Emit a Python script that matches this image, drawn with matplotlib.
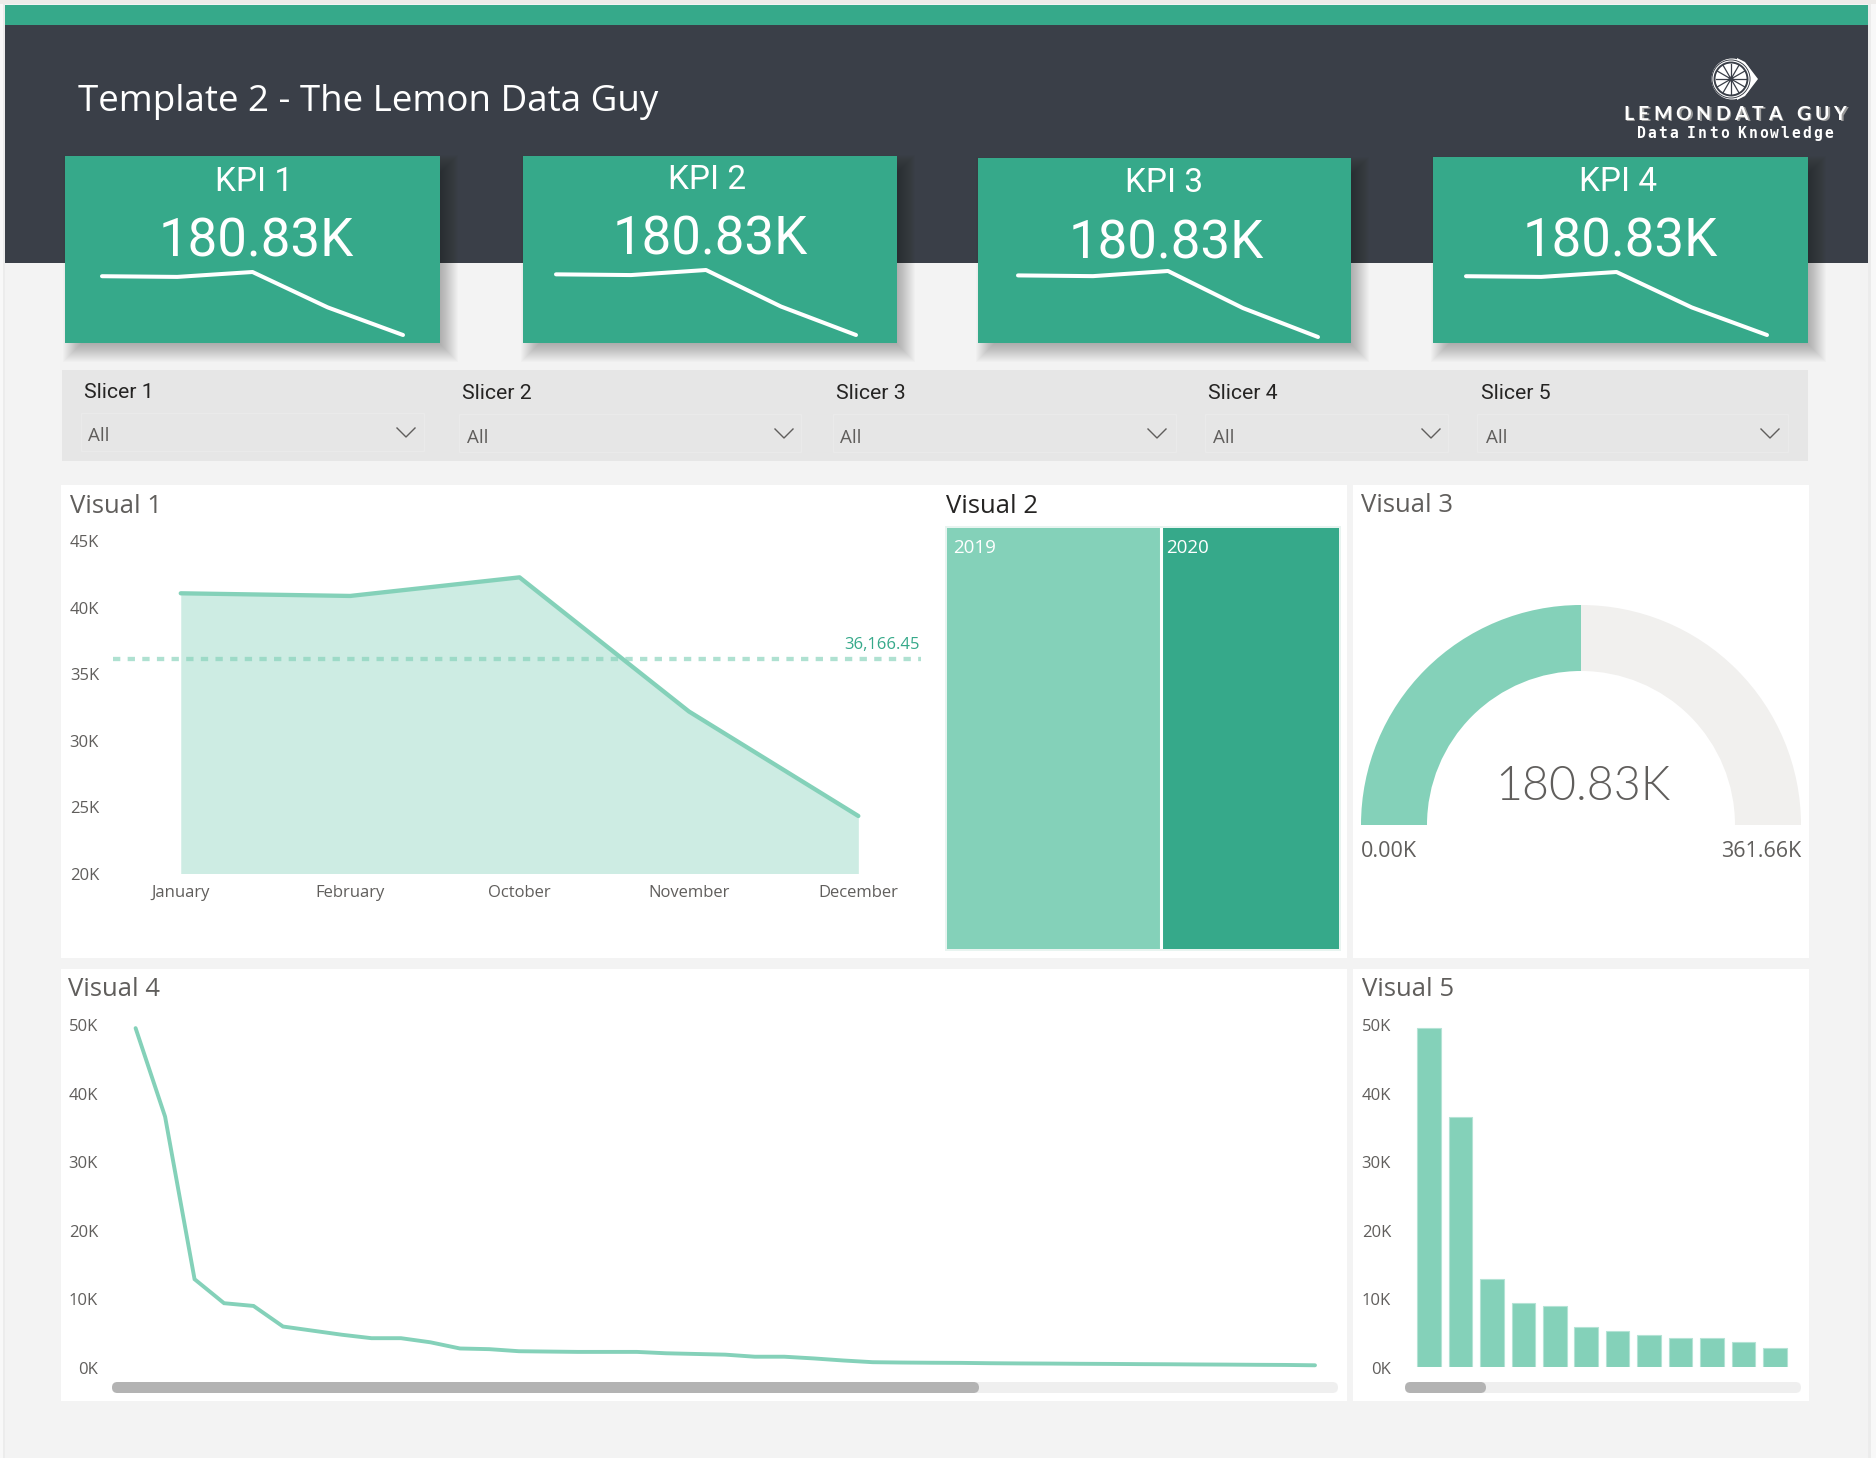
"""Template 2 dashboard - rebuilt with matplotlib, laid out in pixel coords."""
import numpy as np
import matplotlib
matplotlib.use("Agg")
import matplotlib.pyplot as plt
from matplotlib.patches import Rectangle, FancyBboxPatch, Wedge, Circle, Polygon
from matplotlib.transforms import ScaledTranslation

W, H = 1876, 1458
GREEN = "#36A98A"
DARK = "#3A3F48"
LIGHT = "#84D1B9"
FILL = "#CDECE3"
PAGE = "#F3F3F3"
GREY_TXT = "#605E5C"
BLACK_TXT = "#252423"
UI = "Open Sans"
KPI_FONT = "Roboto"

# ---- data (all in thousands unless noted) ----
months = ["January", "February", "October", "November", "December"]
month_vals = [41.1, 40.9, 42.3, 32.2, 24.33]
avg_line = 36.16645
avg_label = "36,166.45"

year_names = ["2019", "2020"]
year_vals = [98.7, 82.13]

gauge_value = 180.83
gauge_max = 361.66
gauge_label = "180.83K"
gauge_min_label = "0.00K"
gauge_max_label = "361.66K"

ranked_vals = [49.4, 36.5, 12.8, 9.3, 8.9, 5.9, 5.3, 4.7, 4.2, 4.2, 3.6, 2.7,
               2.6, 2.3, 2.25, 2.2, 2.2, 2.2, 2.0, 1.9, 1.8, 1.5, 1.5, 1.25,
               0.95, 0.7, 0.65, 0.62, 0.6, 0.55, 0.52, 0.5, 0.47, 0.45, 0.42,
               0.4, 0.37, 0.35, 0.32, 0.3, 0.25]
bar_vals = ranked_vals[:12]

v1_ticks = [20, 25, 30, 35, 40, 45]
v45_ticks = [0, 10, 20, 30, 40, 50]

kpi_names = ["KPI 1", "KPI 2", "KPI 3", "KPI 4"]
kpi_value = "180.83K"
slicer_names = ["Slicer 1", "Slicer 2", "Slicer 3", "Slicer 4", "Slicer 5"]

fig = plt.figure(figsize=(W / 100, H / 100), dpi=100, facecolor="#F8F8F8")

# full-figure axes in pixels, y going down
bg = fig.add_axes([0, 0, 1, 1])
bg.set_xlim(0, W)
bg.set_ylim(H, 0)
bg.axis("off")


def rect(x0, y0, x1, y1, color, z=1, **kw):
    bg.add_patch(Rectangle((x0, y0), x1 - x0, y1 - y0, fc=color, ec="none", zorder=z, **kw))


def txt(x, y, s, size, color, ha="left", family=UI, weight="normal", z=6):
    return bg.text(x, y, s, fontsize=size, color=color, ha=ha, va="baseline",
                   family=family, weight=weight, zorder=z)


def px_axes(x0, y0, x1, y1):
    ax = fig.add_axes([x0 / W, 1 - y1 / H, (x1 - x0) / W, (y1 - y0) / H], zorder=5)
    ax.patch.set_alpha(0)
    for s in ax.spines.values():
        s.set_visible(False)
    return ax


def pill(x0, x1, y0, y1, color, z=4):
    r = (y1 - y0) / 2
    bg.add_patch(FancyBboxPatch((x0 + r, y0 + r), x1 - x0 - 2 * r, 0.01,
                                boxstyle=f"round,pad={r - 0.01}", fc=color, ec="none", zorder=z))


def spaced(s, x0, x1, y, size, family, shadow=None):
    # letters one by one, tracking chosen so the string fills x0..x1
    rend = fig.canvas.get_renderer()
    items = [bg.text(0, y, ch, fontsize=size, color="white", ha="left", va="baseline",
                     family=family, weight="bold", zorder=6) for ch in s]
    widths = []
    for ch, t in zip(s, items):
        widths.append(size * 0.45 if ch == " " else t.get_window_extent(rend).width)
    gap = (x1 - x0 - sum(widths)) / (len(s) - 1)
    x = x0
    for ch, t, w in zip(s, items, widths):
        t.set_x(x)
        if shadow and ch != " ":
            bg.text(x + 1.6, y + 0.6, ch, fontsize=size, color=shadow, ha="left", va="baseline",
                    family=family, weight="bold", zorder=5)
        x += w + gap


# page frame
rect(5, 4, 1868, H, PAGE, z=0)
rect(0, 0, W, 4, "#EDEBE9", z=0)
rect(3, 4, 5, H, "#ECECEC", z=0)
rect(1868, 4, 1871, H, "#ECECEC", z=0)
rect(5, 5, 1868, 25, GREEN)
rect(5, 25, 1868, 263, DARK)

txt(78, 111, "Template 2 - The Lemon Data Guy", 26.5, "white")

# logo
lx, ly = 1731, 79
bg.add_patch(Polygon([(lx + 6, ly - 21), (lx + 14, ly - 17), (lx + 27, ly), (lx + 14, ly + 17), (lx + 6, ly + 21)],
                     fc="white", ec="none", zorder=3))
bg.add_patch(Circle((lx + 1, ly), 20.5, fc="white", ec="none", zorder=3))
bg.add_patch(Circle((lx, ly), 19.5, fc=DARK, ec="none", zorder=3))
bg.add_patch(Circle((lx, ly), 18, fc="none", ec="white", lw=0.8, zorder=3))
bg.add_patch(Circle((lx, ly), 15.5, fc="white", ec="none", zorder=3))
for a in np.arange(0, 2 * np.pi, np.pi / 6):
    bg.plot([lx, lx + 15.5 * np.cos(a)], [ly, ly + 15.5 * np.sin(a)], color=DARK, lw=0.9, zorder=3)
bg.add_patch(Circle((lx, ly), 2.5, fc=DARK, ec="none", zorder=3))

spaced("LEMONDATA GUY", 1623, 1846, 120, 14, "Lato", shadow="#9A9A9A")
spaced("Data Into Knowledge", 1637, 1833, 138, 10.5, "DejaVu Sans Mono")

# KPI cards
kpi_boxes = [(65, 156, 440, 343), (523, 156, 897, 343), (978, 158, 1351, 343), (1433, 157, 1808, 343)]
kpi_label_pos = [(254, 190.5), (707, 189), (1164, 192), (1618, 190.5)]
kpi_value_pos = [(256.5, 256), (710, 254), (1166.5, 258), (1620, 256)]
spark_boxes = [(102, 272, 403, 335), (556, 270, 856, 335), (1018, 271, 1318, 337), (1466, 272, 1767, 335)]

for (x0, y0, x1, y1), name, lp, vp, sb in zip(kpi_boxes, kpi_names, kpi_label_pos, kpi_value_pos, spark_boxes):
    for grow in range(-10, 11):
        rect(x0 + 8 - grow, y0 + 9 - grow, x1 + 8 + grow, y1 + 9 + grow, "black", z=1.5, alpha=0.015)
    rect(x0, y0, x1, y1, GREEN, z=2)
    txt(lp[0], lp[1], name, 24, "white", ha="center", family=KPI_FONT)
    txt(vp[0], vp[1], kpi_value, 38, "white", ha="center", family=KPI_FONT)
    sp = px_axes(*sb)
    sp.plot(range(len(month_vals)), month_vals, color="white", lw=2.9, solid_capstyle="round", clip_on=False)
    sp.set_xlim(0, len(month_vals) - 1)
    sp.set_ylim(min(month_vals), max(month_vals))
    sp.axis("off")

# slicers
rect(62, 370, 1808, 461, "#E6E6E6")
slicer_label_x = [84, 462, 836, 1208, 1481]
slicer_label_y = [398, 399, 399, 399, 399]
drop_x = [(81, 424), (459, 801), (833, 1176), (1205, 1448), (1477, 1788)]
drop_y = [(413, 451), (414, 452), (414, 452), (414, 452), (414, 452)]
chev_x = [406, 784, 1157, 1431, 1770]
all_x = [88.5, 467, 840.5, 1213, 1486]
all_y = [441, 443, 443, 443, 443]
for i, name in enumerate(slicer_names):
    txt(slicer_label_x[i], slicer_label_y[i], name, 15.3, BLACK_TXT, family=KPI_FONT)
    d0, d1 = drop_x[i]
    t0, t1 = drop_y[i]
    bg.add_patch(Rectangle((d0, t0), d1 - d0, t1 - t0, fc="#E6E6E6", ec="#EAEAEA", lw=1, zorder=2))
    txt(all_x[i], all_y[i], "All", 13.5, GREY_TXT)
    cx, cy = chev_x[i], (t0 + t1) / 2
    bg.plot([cx - 9, cx, cx + 9], [cy - 4, cy + 5, cy - 4], color=GREY_TXT, lw=1.0, zorder=6)

# white panels
rect(61, 485, 1347, 958, "white")
rect(1353, 485, 1809, 958, "white")
rect(61, 969, 1347, 1401, "white")
rect(1353, 969, 1809, 1401, "white")

txt(70, 512.5, "Visual 1", 18.5, GREY_TXT)
txt(946, 512.5, "Visual 2", 18.5, BLACK_TXT)
txt(1361, 512, "Visual 3", 18.5, GREY_TXT)
txt(68.5, 996, "Visual 4", 18.5, GREY_TXT)
txt(1362, 996, "Visual 5", 18.5, GREY_TXT)


def style_ticks(ax, pad, nudge=0):
    ax.tick_params(length=0, labelsize=12, labelcolor=GREY_TXT, pad=pad)
    for lab in ax.get_xticklabels() + ax.get_yticklabels():
        lab.set_family(UI)
    if nudge:
        for lab in ax.get_yticklabels():
            lab.set_transform(lab.get_transform() + ScaledTranslation(0, -nudge / 100, fig.dpi_scale_trans))


# Visual 1: area with average line
ax1 = px_axes(113, 541.5, 921, 873.5)
pos = np.arange(len(months))
ax1.fill_between(pos, month_vals, 20, color=FILL, lw=0, clip_on=False)
ax1.plot(pos, month_vals, color=LIGHT, lw=3.1, solid_capstyle="round", clip_on=False)
ax1.plot([-0.4, 4.37], [avg_line, avg_line], color=LIGHT, alpha=0.65, lw=3.1, ls=(0, (1.7, 1.7)), clip_on=False)
ax1.text(4.36, avg_line + 0.75, avg_label, fontsize=12, color=GREEN, ha="right", va="baseline", family=UI)
ax1.set_xlim(-0.4, 4.37)
ax1.set_ylim(20, 45)
ax1.set_yticks(v1_ticks, [f"{t}K" for t in v1_ticks])
ax1.set_xticks(pos, months)
style_ticks(ax1, 10)
ax1.tick_params(axis="x", pad=8)

# Visual 2: treemap of the two years
ax2 = px_axes(947, 528, 1339, 949)
rect(945, 526, 1341, 951, "#E8F4F0", z=2)
left = 0
for name, val, col in zip(year_names, year_vals, [LIGHT, GREEN]):
    ax2.barh(0, val, left=left, height=1, color=col, lw=0)
    ax2.text(left + 2.6, 0.5 - 24.7 / 421, name, fontsize=13.5, color="white", ha="left", va="baseline", family=UI)
    left += val
ax2.axvline(year_vals[0], color="white", lw=2.2)
ax2.set_xlim(0, sum(year_vals))
ax2.set_ylim(-0.5, 0.5)
ax2.axis("off")

# Visual 3: gauge
ax3 = px_axes(1361, 605, 1801, 825)
ax3.set_xlim(-220, 220)
ax3.set_ylim(0, 220)
ax3.axis("off")
split = 180 - 180 * gauge_value / gauge_max
ax3.add_patch(Wedge((0, 0), 220, split, 180, width=66, fc=LIGHT, ec="none"))
ax3.add_patch(Wedge((0, 0), 220, 0, split, width=66, fc="#F1F0EE", ec="none"))
txt(1582.5, 800, gauge_label, 33.5, GREY_TXT, ha="center", family="Lato", weight=300)
txt(1361, 857, gauge_min_label, 15.5, GREY_TXT)
txt(1801, 857, gauge_max_label, 15.5, GREY_TXT, ha="right")

# Visual 4: long ranked line
ax4 = px_axes(112, 1024, 1338, 1367)
idx = np.arange(len(ranked_vals))
ax4.plot(idx, ranked_vals, color=LIGHT, lw=2.8, solid_capstyle="round", solid_joinstyle="miter", clip_on=False)
ax4.set_xlim(-0.8, 40.78)
ax4.set_ylim(0, 50)
ax4.set_xticks([])
ax4.set_yticks(v45_ticks, [f"{t}K" for t in v45_ticks])
style_ticks(ax4, 10, nudge=1)
pill(112, 1338, 1382, 1393, "#EFEFEF", z=2)
pill(112, 979, 1382, 1393, "#B3B3B3", z=3)

# Visual 5: first bars of the same ranking
ax5 = px_axes(1405, 1024, 1801, 1367)
ax5.bar(np.arange(len(bar_vals)), bar_vals, width=0.747, color=LIGHT, edgecolor="#B4E3D5", lw=0.8)
ax5.set_xlim(-0.763, 11.83)
ax5.set_ylim(0, 50)
ax5.set_xticks([])
ax5.set_yticks(v45_ticks, [f"{t}K" for t in v45_ticks])
style_ticks(ax5, 10, nudge=1)
pill(1405, 1801, 1382, 1393, "#EFEFEF", z=2)
pill(1405, 1486, 1382, 1393, "#B3B3B3", z=3)

fig.savefig("out.png", dpi=100, facecolor=fig.get_facecolor())
